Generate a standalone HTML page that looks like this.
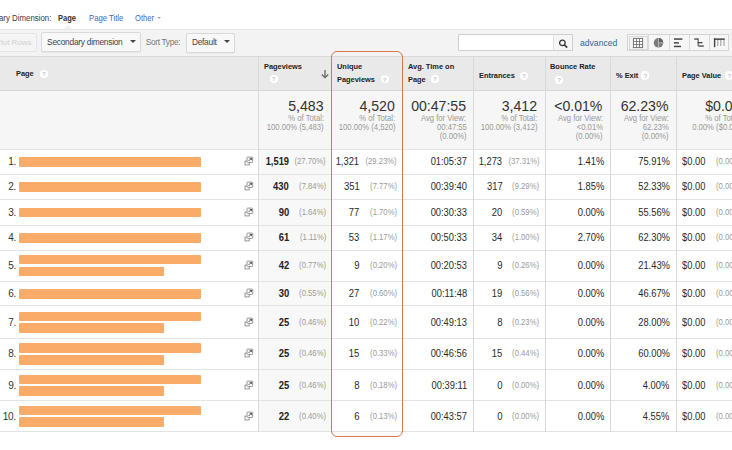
<!DOCTYPE html>
<html><head><meta charset="utf-8">
<style>
*{margin:0;padding:0;box-sizing:border-box}
html,body{width:732px;height:450px;overflow:hidden;background:#fff;font-family:"Liberation Sans", sans-serif;color:#333}
.a{position:absolute;white-space:nowrap}
#wrap{position:absolute;left:0;top:0;width:732px;height:450px;overflow:hidden;}
</style></head><body><div id="wrap">
<div class="a" style="left:-0.60px;top:13px;font-size:8.5px;line-height:10px;color:#3a3a3a;transform:scaleX(0.9242);transform-origin:left center;">ary Dimension:</div>
<div class="a" style="left:58.40px;top:13px;font-size:8.6px;line-height:10px;color:#333;font-weight:bold;transform:scaleX(0.8709);transform-origin:left center;">Page</div>
<div class="a" style="left:88.60px;top:13px;font-size:8.4px;line-height:10px;color:#3f68b8;transform:scaleX(0.9213);transform-origin:left center;">Page Title</div>
<div class="a" style="left:135.40px;top:13px;font-size:8.4px;line-height:10px;color:#3f68b8;transform:scaleX(0.9048);transform-origin:left center;">Other</div>
<div class="a" style="left:156.8px;top:17.2px;width:0;height:0;border-left:2.9px solid transparent;border-right:2.9px solid transparent;border-top:2.9px solid #aaa"></div>
<div class="a" style="left:0px;top:28.5px;width:732px;height:28.5px;background:#f3f3f3;border-top:1px solid #e6e6e6;border-bottom:1px solid #d9d9d9"></div>
<div class="a" style="left:63.5px;top:24.6px;width:0;height:0;border-left:4px solid transparent;border-right:4px solid transparent;border-bottom:4px solid #e8e8e8"></div>
<div class="a" style="left:64.5px;top:26.2px;width:0;height:0;border-left:3px solid transparent;border-right:3px solid transparent;border-bottom:3px solid #f3f3f3"></div>
<div class="a" style="left:-4px;top:32.5px;width:41px;height:19.5px;background:#f5f5f5;border:1px solid #e6e6e6;border-radius:2px"></div>
<div class="a" style="left:-4.40px;top:38px;font-size:8.0px;line-height:9px;color:#d0d0d0;">Plot Rows</div>
<div class="a" style="left:41px;top:32.3px;width:99.5px;height:20.2px;background:#f8f8f8;border:1px solid #d9d9d9;border-radius:2px;box-shadow:0 1px 1px rgba(0,0,0,0.05)"></div>
<div class="a" style="left:47.10px;top:37px;font-size:8.4px;line-height:10px;color:#444;letter-spacing:-0.270px;">Secondary dimension</div>
<div class="a" style="left:129.9px;top:39.8px;width:0;height:0;border-left:3.1px solid transparent;border-right:3.1px solid transparent;border-top:3.3px solid #444"></div>
<div class="a" style="left:145.70px;top:37px;font-size:8.3px;line-height:10px;color:#777;letter-spacing:-0.309px;">Sort Type:</div>
<div class="a" style="left:186px;top:32.5px;width:48.5px;height:20px;background:#f8f8f8;border:1px solid #d9d9d9;border-radius:2px;box-shadow:0 1px 1px rgba(0,0,0,0.05)"></div>
<div class="a" style="left:191.90px;top:37px;font-size:8.4px;line-height:10px;color:#444;letter-spacing:-0.271px;">Default</div>
<div class="a" style="left:223.7px;top:39.8px;width:0;height:0;border-left:3.1px solid transparent;border-right:3.1px solid transparent;border-top:3.3px solid #444"></div>
<div class="a" style="left:458px;top:34px;width:115px;height:16.5px;background:#fff;border:1px solid #cfcfcf;border-radius:1px"></div>
<div class="a" style="left:553px;top:34px;width:20px;height:16.5px;background:#f6f6f6;border:1px solid #cfcfcf;border-left:1px solid #e0e0e0"></div>
<svg class="a" style="left:558px;top:38.6px" width="12" height="10" viewBox="0 0 12 10"><circle cx="4.4" cy="3.9" r="2.8" fill="none" stroke="#333" stroke-width="1.3"/><line x1="6.4" y1="6" x2="9.2" y2="8.6" stroke="#333" stroke-width="1.7"/></svg>
<div class="a" style="left:579.60px;top:38px;font-size:8.9px;line-height:10px;color:#2c669c;transform:scaleX(0.9694);transform-origin:left center;">advanced</div>
<div class="a" style="left:627.3px;top:34px;width:102px;height:17.3px;background:#f7f7f7;border:1px solid #d4d4d4"></div>
<div class="a" style="left:628.6px;top:35.5px;width:19.2px;height:14.5px;background:#f3f3f3;border:1px solid #d9d9d9"></div>
<div class="a" style="left:648px;top:34.5px;width:1px;height:16.5px;background:#dadada"></div>
<div class="a" style="left:668.5px;top:34.5px;width:1px;height:16.5px;background:#dadada"></div>
<div class="a" style="left:688.6px;top:34.5px;width:1px;height:16.5px;background:#dadada"></div>
<div class="a" style="left:709.2px;top:34.5px;width:1px;height:16.5px;background:#dadada"></div>
<svg class="a" style="left:0;top:0" width="732" height="60" viewBox="0 0 732 60"><rect x="633.4" y="38.4" width="9.2" height="9.2" fill="#fafafa" stroke="#6a6a6a" stroke-width="0.9"/><line x1="636.5" y1="38.4" x2="636.5" y2="47.6" stroke="#6a6a6a" stroke-width="0.8"/><line x1="639.5" y1="38.4" x2="639.5" y2="47.6" stroke="#6a6a6a" stroke-width="0.8"/><line x1="633.4" y1="41.5" x2="642.6" y2="41.5" stroke="#6a6a6a" stroke-width="0.8"/><line x1="633.4" y1="44.5" x2="642.6" y2="44.5" stroke="#6a6a6a" stroke-width="0.8"/><circle cx="658.5" cy="42.8" r="4.8" fill="#7c7c7c"/><path d="M658.5 42.8 L658.5 38 A4.8 4.8 0 0 1 663.3 42.8 Z" fill="#5f5f5f"/><line x1="658.5" y1="38" x2="658.5" y2="47.6" stroke="#bdbdbd" stroke-width="0.9"/><line x1="658.5" y1="42.8" x2="663.3" y2="42.8" stroke="#bdbdbd" stroke-width="0.9"/><rect x="673.9" y="38.3" width="8.5" height="1.5" fill="#444"/><rect x="673.9" y="42.1" width="5" height="1.5" fill="#444"/><rect x="673.9" y="45.7" width="7.1" height="1.5" fill="#444"/><rect x="694.2" y="38.4" width="4" height="1.3" fill="#444"/><rect x="697.6" y="38.4" width="1.1" height="7.6" fill="#555"/><rect x="697.6" y="42" width="4.9" height="1.3" fill="#444"/><rect x="698.4" y="45.4" width="5.4" height="1.3" fill="#444"/><rect x="713.9" y="38.4" width="10.9" height="1.5" fill="#444"/><rect x="713.9" y="38.4" width="1.4" height="8.8" fill="#444"/><rect x="717.3" y="40" width="1" height="6" fill="#999"/><rect x="720.3" y="40" width="1" height="6" fill="#999"/><rect x="723.5" y="40" width="1" height="6" fill="#999"/></svg>
<div class="a" style="left:0px;top:57px;width:732px;height:33px;background:#e9e9e9"></div>
<div class="a" style="left:0px;top:90px;width:258px;height:59px;background:#f6f6f6"></div>
<div class="a" style="left:259px;top:90px;width:473px;height:59px;background:#f6f6f6"></div>
<div class="a" style="left:259px;top:149px;width:72px;height:283px;background:#f8f8f8"></div>
<div class="a" style="left:0px;top:90px;width:732px;height:1px;background:#d6d6d6"></div>
<div class="a" style="left:0px;top:148.5px;width:732px;height:1px;background:#e3e3e3"></div>
<div class="a" style="left:0px;top:173.8px;width:732px;height:1px;background:#e3e3e3"></div>
<div class="a" style="left:0px;top:199.0px;width:732px;height:1px;background:#e3e3e3"></div>
<div class="a" style="left:0px;top:224.5px;width:732px;height:1px;background:#e3e3e3"></div>
<div class="a" style="left:0px;top:249.5px;width:732px;height:1px;background:#e3e3e3"></div>
<div class="a" style="left:0px;top:280.5px;width:732px;height:1px;background:#e3e3e3"></div>
<div class="a" style="left:0px;top:305.4px;width:732px;height:1px;background:#e3e3e3"></div>
<div class="a" style="left:0px;top:337.8px;width:732px;height:1px;background:#e3e3e3"></div>
<div class="a" style="left:0px;top:369.0px;width:732px;height:1px;background:#e3e3e3"></div>
<div class="a" style="left:0px;top:400.2px;width:732px;height:1px;background:#e3e3e3"></div>
<div class="a" style="left:0px;top:431.3px;width:732px;height:1px;background:#e3e3e3"></div>
<div class="a" style="left:258.0px;top:57px;width:1px;height:374.8px;background:#d9d9d9"></div>
<div class="a" style="left:330.5px;top:57px;width:1px;height:374.8px;background:#d9d9d9"></div>
<div class="a" style="left:401.5px;top:57px;width:1px;height:374.8px;background:#d9d9d9"></div>
<div class="a" style="left:473.0px;top:57px;width:1px;height:374.8px;background:#d9d9d9"></div>
<div class="a" style="left:544.5px;top:57px;width:1px;height:374.8px;background:#d9d9d9"></div>
<div class="a" style="left:610.0px;top:57px;width:1px;height:374.8px;background:#d9d9d9"></div>
<div class="a" style="left:675.8px;top:57px;width:1px;height:374.8px;background:#d9d9d9"></div>
<div class="a" style="left:16.00px;top:69px;font-size:7.7px;line-height:9px;color:#222;font-weight:bold;transform:scaleX(0.9650);transform-origin:left center;">Page</div>
<div class="a" style="left:39.80px;top:69.60px;width:8.2px;height:8.2px;border-radius:50%;background:#fff"></div>
<div class="a" style="left:40.90px;top:70.00px;width:6px;text-align:center;font-size:6.2px;line-height:7px;font-weight:bold;color:#c2c2c2">?</div>
<div class="a" style="left:263.80px;top:62px;font-size:7.7px;line-height:9px;color:#222;font-weight:bold;transform:scaleX(0.9650);transform-origin:left center;">Pageviews</div>
<div class="a" style="left:269.50px;top:74.90px;width:8.2px;height:8.2px;border-radius:50%;background:#fff"></div>
<div class="a" style="left:270.60px;top:75.30px;width:6px;text-align:center;font-size:6.2px;line-height:7px;font-weight:bold;color:#c2c2c2">?</div>
<svg class="a" style="left:320px;top:69px" width="10" height="10" viewBox="0 0 10 10"><line x1="5" y1="1" x2="5" y2="8.5" stroke="#666" stroke-width="1.3"/><polyline points="1.8,5.5 5,8.7 8.2,5.5" fill="none" stroke="#666" stroke-width="1.3"/></svg>
<div class="a" style="left:336.50px;top:62px;font-size:7.7px;line-height:9px;color:#222;font-weight:bold;transform:scaleX(0.9650);transform-origin:left center;">Unique</div>
<div class="a" style="left:336.50px;top:75px;font-size:7.7px;line-height:9px;color:#222;font-weight:bold;transform:scaleX(0.9650);transform-origin:left center;">Pageviews</div>
<div class="a" style="left:380.60px;top:75.30px;width:8.2px;height:8.2px;border-radius:50%;background:#fff"></div>
<div class="a" style="left:381.70px;top:75.70px;width:6px;text-align:center;font-size:6.2px;line-height:7px;font-weight:bold;color:#c2c2c2">?</div>
<div class="a" style="left:407.70px;top:62px;font-size:7.7px;line-height:9px;color:#222;font-weight:bold;transform:scaleX(0.9650);transform-origin:left center;">Avg. Time on</div>
<div class="a" style="left:407.70px;top:75px;font-size:7.7px;line-height:9px;color:#222;font-weight:bold;transform:scaleX(0.9650);transform-origin:left center;">Page</div>
<div class="a" style="left:430.90px;top:75.00px;width:8.2px;height:8.2px;border-radius:50%;background:#fff"></div>
<div class="a" style="left:432.00px;top:75.40px;width:6px;text-align:center;font-size:6.2px;line-height:7px;font-weight:bold;color:#c2c2c2">?</div>
<div class="a" style="left:478.70px;top:71px;font-size:7.7px;line-height:9px;color:#222;font-weight:bold;transform:scaleX(0.9650);transform-origin:left center;">Entrances</div>
<div class="a" style="left:519.80px;top:71.70px;width:8.2px;height:8.2px;border-radius:50%;background:#fff"></div>
<div class="a" style="left:520.90px;top:72.10px;width:6px;text-align:center;font-size:6.2px;line-height:7px;font-weight:bold;color:#c2c2c2">?</div>
<div class="a" style="left:550.00px;top:62px;font-size:7.7px;line-height:9px;color:#222;font-weight:bold;transform:scaleX(0.9650);transform-origin:left center;">Bounce Rate</div>
<div class="a" style="left:555.00px;top:75.60px;width:8.2px;height:8.2px;border-radius:50%;background:#fff"></div>
<div class="a" style="left:556.10px;top:76.00px;width:6px;text-align:center;font-size:6.2px;line-height:7px;font-weight:bold;color:#c2c2c2">?</div>
<div class="a" style="left:615.50px;top:71px;font-size:7.7px;line-height:9px;color:#222;font-weight:bold;transform:scaleX(0.9650);transform-origin:left center;">% Exit</div>
<div class="a" style="left:641.30px;top:71.40px;width:8.2px;height:8.2px;border-radius:50%;background:#fff"></div>
<div class="a" style="left:642.40px;top:71.80px;width:6px;text-align:center;font-size:6.2px;line-height:7px;font-weight:bold;color:#c2c2c2">?</div>
<div class="a" style="left:681.60px;top:71px;font-size:7.7px;line-height:9px;color:#222;font-weight:bold;transform:scaleX(0.9650);transform-origin:left center;">Page Value</div>
<div class="a" style="left:725.30px;top:71.40px;width:8.2px;height:8.2px;border-radius:50%;background:#fff"></div>
<div class="a" style="left:726.40px;top:71.80px;width:6px;text-align:center;font-size:6.2px;line-height:7px;font-weight:bold;color:#c2c2c2">?</div>
<div class="a" style="right:408.50px;top:98px;font-size:14.1px;line-height:16px;color:#333;">5,483</div>
<div class="a" style="right:408.10px;top:114px;font-size:8.2px;line-height:9px;color:#999999;transform:scaleX(0.9390);transform-origin:right center;">% of Total:</div>
<div class="a" style="right:408.10px;top:123px;font-size:8.2px;line-height:9px;color:#999999;transform:scaleX(0.9390);transform-origin:right center;">100.00% (5,483)</div>
<div class="a" style="right:337.20px;top:98px;font-size:14.1px;line-height:16px;color:#333;">4,520</div>
<div class="a" style="right:336.80px;top:114px;font-size:8.2px;line-height:9px;color:#999999;transform:scaleX(0.9390);transform-origin:right center;">% of Total:</div>
<div class="a" style="right:336.80px;top:123px;font-size:8.2px;line-height:9px;color:#999999;transform:scaleX(0.9390);transform-origin:right center;">100.00% (4,520)</div>
<div class="a" style="right:266.00px;top:98px;font-size:14.1px;line-height:16px;color:#333;">00:47:55</div>
<div class="a" style="right:265.60px;top:114px;font-size:8.2px;line-height:9px;color:#999999;transform:scaleX(0.9390);transform-origin:right center;">Avg for View:</div>
<div class="a" style="right:265.60px;top:123px;font-size:8.2px;line-height:9px;color:#999999;transform:scaleX(0.9390);transform-origin:right center;">00:47:55</div>
<div class="a" style="right:265.60px;top:132px;font-size:8.2px;line-height:9px;color:#999999;transform:scaleX(0.9390);transform-origin:right center;">(0.00%)</div>
<div class="a" style="right:195.00px;top:98px;font-size:14.1px;line-height:16px;color:#333;">3,412</div>
<div class="a" style="right:194.60px;top:114px;font-size:8.2px;line-height:9px;color:#999999;transform:scaleX(0.9390);transform-origin:right center;">% of Total:</div>
<div class="a" style="right:194.60px;top:123px;font-size:8.2px;line-height:9px;color:#999999;transform:scaleX(0.9390);transform-origin:right center;">100.00% (3,412)</div>
<div class="a" style="right:129.60px;top:98px;font-size:14.1px;line-height:16px;color:#333;">&lt;0.01%</div>
<div class="a" style="right:129.20px;top:114px;font-size:8.2px;line-height:9px;color:#999999;transform:scaleX(0.9390);transform-origin:right center;">Avg for View:</div>
<div class="a" style="right:129.20px;top:123px;font-size:8.2px;line-height:9px;color:#999999;transform:scaleX(0.9390);transform-origin:right center;">&lt;0.01%</div>
<div class="a" style="right:129.20px;top:132px;font-size:8.2px;line-height:9px;color:#999999;transform:scaleX(0.9390);transform-origin:right center;">(0.00%)</div>
<div class="a" style="right:63.50px;top:98px;font-size:14.1px;line-height:16px;color:#333;">62.23%</div>
<div class="a" style="right:63.10px;top:114px;font-size:8.2px;line-height:9px;color:#999999;transform:scaleX(0.9390);transform-origin:right center;">Avg for View:</div>
<div class="a" style="right:63.10px;top:123px;font-size:8.2px;line-height:9px;color:#999999;transform:scaleX(0.9390);transform-origin:right center;">62.23%</div>
<div class="a" style="right:63.10px;top:132px;font-size:8.2px;line-height:9px;color:#999999;transform:scaleX(0.9390);transform-origin:right center;">(0.00%)</div>
<div class="a" style="right:-8.50px;top:98px;font-size:14.1px;line-height:16px;color:#333;">$0.00</div>
<div class="a" style="right:-8.90px;top:114px;font-size:8.2px;line-height:9px;color:#999999;transform:scaleX(0.9390);transform-origin:right center;">% of Total:</div>
<div class="a" style="right:-8.90px;top:123px;font-size:8.2px;line-height:9px;color:#999999;transform:scaleX(0.9390);transform-origin:right center;">0.00% ($0.00)</div>
<div class="a" style="right:716.07px;top:156px;font-size:10.0px;line-height:11px;color:#333;letter-spacing:-0.334px;">1.</div>
<div class="a" style="left:19.4px;top:156.95000000000002px;width:181.2px;height:9.8px;background:#fbab68;border-radius:1px"></div>
<svg class="a" style="left:243.6px;top:156.05px" width="10" height="10" viewBox="0 0 10 10"><rect x="1" y="5.1" width="4.2" height="3.8" fill="#fff" stroke="#8a8a8a" stroke-width="0.9"/><rect x="3" y="1.1" width="5.7" height="5.3" rx="0.6" fill="#fff" stroke="#8a8a8a" stroke-width="0.9"/><path d="M4.6 5 L7.6 2" stroke="#555" stroke-width="1"/><path d="M5.4 1.9 L8 1.9 L8 4.5 Z" fill="#555"/></svg>
<div class="a" style="right:443.00px;top:156px;font-size:10.0px;line-height:11px;color:#222;font-weight:bold;transform:scaleX(0.9340);transform-origin:right center;">1,519</div>
<div class="a" style="right:406.00px;top:156px;font-size:8.3px;line-height:10px;color:#9a9a9a;transform:scaleX(0.9277);transform-origin:right center;">(27.70%)</div>
<div class="a" style="right:372.50px;top:156px;font-size:10.0px;line-height:11px;color:#2a2a2a;transform:scaleX(0.9340);transform-origin:right center;">1,321</div>
<div class="a" style="right:335.30px;top:156px;font-size:8.3px;line-height:10px;color:#9a9a9a;transform:scaleX(0.9277);transform-origin:right center;">(29.23%)</div>
<div class="a" style="right:265.00px;top:156px;font-size:10.0px;line-height:11px;color:#2a2a2a;transform:scaleX(0.9320);transform-origin:right center;">01:05:37</div>
<div class="a" style="right:229.80px;top:156px;font-size:10.0px;line-height:11px;color:#2a2a2a;transform:scaleX(0.9340);transform-origin:right center;">1,273</div>
<div class="a" style="right:192.60px;top:156px;font-size:8.3px;line-height:10px;color:#9a9a9a;transform:scaleX(0.9277);transform-origin:right center;">(37.31%)</div>
<div class="a" style="right:127.80px;top:156px;font-size:10.0px;line-height:11px;color:#2a2a2a;transform:scaleX(0.9359);transform-origin:right center;">1.41%</div>
<div class="a" style="right:62.30px;top:156px;font-size:10.0px;line-height:11px;color:#2a2a2a;transform:scaleX(0.9353);transform-origin:right center;">75.91%</div>
<div class="a" style="left:681.90px;top:156px;font-size:10.0px;line-height:11px;color:#2a2a2a;transform:scaleX(0.9340);transform-origin:left center;">$0.00</div>
<div class="a" style="left:715.90px;top:156px;font-size:8.3px;line-height:10px;color:#9a9a9a;transform:scaleX(0.9277);transform-origin:left center;">(0.00%)</div>
<div class="a" style="right:716.07px;top:181px;font-size:10.0px;line-height:11px;color:#333;letter-spacing:-0.334px;">2.</div>
<div class="a" style="left:19.4px;top:182.20000000000002px;width:181.2px;height:9.8px;background:#fbab68;border-radius:1px"></div>
<svg class="a" style="left:243.6px;top:181.30px" width="10" height="10" viewBox="0 0 10 10"><rect x="1" y="5.1" width="4.2" height="3.8" fill="#fff" stroke="#8a8a8a" stroke-width="0.9"/><rect x="3" y="1.1" width="5.7" height="5.3" rx="0.6" fill="#fff" stroke="#8a8a8a" stroke-width="0.9"/><path d="M4.6 5 L7.6 2" stroke="#555" stroke-width="1"/><path d="M5.4 1.9 L8 1.9 L8 4.5 Z" fill="#555"/></svg>
<div class="a" style="right:443.00px;top:181px;font-size:10.0px;line-height:11px;color:#222;font-weight:bold;transform:scaleX(0.9380);transform-origin:right center;">430</div>
<div class="a" style="right:406.00px;top:181px;font-size:8.3px;line-height:10px;color:#9a9a9a;transform:scaleX(0.9277);transform-origin:right center;">(7.84%)</div>
<div class="a" style="right:372.50px;top:181px;font-size:10.0px;line-height:11px;color:#2a2a2a;transform:scaleX(0.9380);transform-origin:right center;">351</div>
<div class="a" style="right:335.30px;top:181px;font-size:8.3px;line-height:10px;color:#9a9a9a;transform:scaleX(0.9277);transform-origin:right center;">(7.77%)</div>
<div class="a" style="right:265.00px;top:181px;font-size:10.0px;line-height:11px;color:#2a2a2a;transform:scaleX(0.9320);transform-origin:right center;">00:39:40</div>
<div class="a" style="right:229.80px;top:181px;font-size:10.0px;line-height:11px;color:#2a2a2a;transform:scaleX(0.9380);transform-origin:right center;">317</div>
<div class="a" style="right:192.60px;top:181px;font-size:8.3px;line-height:10px;color:#9a9a9a;transform:scaleX(0.9277);transform-origin:right center;">(9.29%)</div>
<div class="a" style="right:127.80px;top:181px;font-size:10.0px;line-height:11px;color:#2a2a2a;transform:scaleX(0.9359);transform-origin:right center;">1.85%</div>
<div class="a" style="right:62.30px;top:181px;font-size:10.0px;line-height:11px;color:#2a2a2a;transform:scaleX(0.9353);transform-origin:right center;">52.33%</div>
<div class="a" style="left:681.90px;top:181px;font-size:10.0px;line-height:11px;color:#2a2a2a;transform:scaleX(0.9340);transform-origin:left center;">$0.00</div>
<div class="a" style="left:715.90px;top:181px;font-size:8.3px;line-height:10px;color:#9a9a9a;transform:scaleX(0.9277);transform-origin:left center;">(0.00%)</div>
<div class="a" style="right:716.07px;top:207px;font-size:10.0px;line-height:11px;color:#333;letter-spacing:-0.334px;">3.</div>
<div class="a" style="left:19.4px;top:207.55px;width:181.2px;height:9.8px;background:#fbab68;border-radius:1px"></div>
<svg class="a" style="left:243.6px;top:206.65px" width="10" height="10" viewBox="0 0 10 10"><rect x="1" y="5.1" width="4.2" height="3.8" fill="#fff" stroke="#8a8a8a" stroke-width="0.9"/><rect x="3" y="1.1" width="5.7" height="5.3" rx="0.6" fill="#fff" stroke="#8a8a8a" stroke-width="0.9"/><path d="M4.6 5 L7.6 2" stroke="#555" stroke-width="1"/><path d="M5.4 1.9 L8 1.9 L8 4.5 Z" fill="#555"/></svg>
<div class="a" style="right:443.00px;top:207px;font-size:10.0px;line-height:11px;color:#222;font-weight:bold;transform:scaleX(0.9410);transform-origin:right center;">90</div>
<div class="a" style="right:406.00px;top:207px;font-size:8.3px;line-height:10px;color:#9a9a9a;transform:scaleX(0.9277);transform-origin:right center;">(1.64%)</div>
<div class="a" style="right:372.50px;top:207px;font-size:10.0px;line-height:11px;color:#2a2a2a;transform:scaleX(0.9410);transform-origin:right center;">77</div>
<div class="a" style="right:335.30px;top:207px;font-size:8.3px;line-height:10px;color:#9a9a9a;transform:scaleX(0.9277);transform-origin:right center;">(1.70%)</div>
<div class="a" style="right:265.00px;top:207px;font-size:10.0px;line-height:11px;color:#2a2a2a;transform:scaleX(0.9320);transform-origin:right center;">00:30:33</div>
<div class="a" style="right:229.80px;top:207px;font-size:10.0px;line-height:11px;color:#2a2a2a;transform:scaleX(0.9410);transform-origin:right center;">20</div>
<div class="a" style="right:192.60px;top:207px;font-size:8.3px;line-height:10px;color:#9a9a9a;transform:scaleX(0.9277);transform-origin:right center;">(0.59%)</div>
<div class="a" style="right:127.80px;top:207px;font-size:10.0px;line-height:11px;color:#2a2a2a;transform:scaleX(0.9359);transform-origin:right center;">0.00%</div>
<div class="a" style="right:62.30px;top:207px;font-size:10.0px;line-height:11px;color:#2a2a2a;transform:scaleX(0.9353);transform-origin:right center;">55.56%</div>
<div class="a" style="left:681.90px;top:207px;font-size:10.0px;line-height:11px;color:#2a2a2a;transform:scaleX(0.9340);transform-origin:left center;">$0.00</div>
<div class="a" style="left:715.90px;top:207px;font-size:8.3px;line-height:10px;color:#9a9a9a;transform:scaleX(0.9277);transform-origin:left center;">(0.00%)</div>
<div class="a" style="right:716.07px;top:232px;font-size:10.0px;line-height:11px;color:#333;letter-spacing:-0.334px;">4.</div>
<div class="a" style="left:19.4px;top:232.8px;width:181.2px;height:9.8px;background:#fbab68;border-radius:1px"></div>
<svg class="a" style="left:243.6px;top:231.90px" width="10" height="10" viewBox="0 0 10 10"><rect x="1" y="5.1" width="4.2" height="3.8" fill="#fff" stroke="#8a8a8a" stroke-width="0.9"/><rect x="3" y="1.1" width="5.7" height="5.3" rx="0.6" fill="#fff" stroke="#8a8a8a" stroke-width="0.9"/><path d="M4.6 5 L7.6 2" stroke="#555" stroke-width="1"/><path d="M5.4 1.9 L8 1.9 L8 4.5 Z" fill="#555"/></svg>
<div class="a" style="right:443.00px;top:232px;font-size:10.0px;line-height:11px;color:#222;font-weight:bold;transform:scaleX(0.9410);transform-origin:right center;">61</div>
<div class="a" style="right:406.00px;top:232px;font-size:8.3px;line-height:10px;color:#9a9a9a;transform:scaleX(0.9277);transform-origin:right center;">(1.11%)</div>
<div class="a" style="right:372.50px;top:232px;font-size:10.0px;line-height:11px;color:#2a2a2a;transform:scaleX(0.9410);transform-origin:right center;">53</div>
<div class="a" style="right:335.30px;top:232px;font-size:8.3px;line-height:10px;color:#9a9a9a;transform:scaleX(0.9277);transform-origin:right center;">(1.17%)</div>
<div class="a" style="right:265.00px;top:232px;font-size:10.0px;line-height:11px;color:#2a2a2a;transform:scaleX(0.9320);transform-origin:right center;">00:50:33</div>
<div class="a" style="right:229.80px;top:232px;font-size:10.0px;line-height:11px;color:#2a2a2a;transform:scaleX(0.9410);transform-origin:right center;">34</div>
<div class="a" style="right:192.60px;top:232px;font-size:8.3px;line-height:10px;color:#9a9a9a;transform:scaleX(0.9277);transform-origin:right center;">(1.00%)</div>
<div class="a" style="right:127.80px;top:232px;font-size:10.0px;line-height:11px;color:#2a2a2a;transform:scaleX(0.9359);transform-origin:right center;">2.70%</div>
<div class="a" style="right:62.30px;top:232px;font-size:10.0px;line-height:11px;color:#2a2a2a;transform:scaleX(0.9353);transform-origin:right center;">62.30%</div>
<div class="a" style="left:681.90px;top:232px;font-size:10.0px;line-height:11px;color:#2a2a2a;transform:scaleX(0.9340);transform-origin:left center;">$0.00</div>
<div class="a" style="left:715.90px;top:232px;font-size:8.3px;line-height:10px;color:#9a9a9a;transform:scaleX(0.9277);transform-origin:left center;">(0.00%)</div>
<div class="a" style="right:716.07px;top:260px;font-size:10.0px;line-height:11px;color:#333;letter-spacing:-0.334px;">5.</div>
<div class="a" style="left:19.4px;top:254.9px;width:181.2px;height:9.5px;background:#fbab68;border-radius:1px"></div>
<div class="a" style="left:19.4px;top:266.6px;width:144.5px;height:9.5px;background:#fbab68;border-radius:1px"></div>
<svg class="a" style="left:243.6px;top:259.90px" width="10" height="10" viewBox="0 0 10 10"><rect x="1" y="5.1" width="4.2" height="3.8" fill="#fff" stroke="#8a8a8a" stroke-width="0.9"/><rect x="3" y="1.1" width="5.7" height="5.3" rx="0.6" fill="#fff" stroke="#8a8a8a" stroke-width="0.9"/><path d="M4.6 5 L7.6 2" stroke="#555" stroke-width="1"/><path d="M5.4 1.9 L8 1.9 L8 4.5 Z" fill="#555"/></svg>
<div class="a" style="right:443.00px;top:260px;font-size:10.0px;line-height:11px;color:#222;font-weight:bold;transform:scaleX(0.9410);transform-origin:right center;">42</div>
<div class="a" style="right:406.00px;top:260px;font-size:8.3px;line-height:10px;color:#9a9a9a;transform:scaleX(0.9277);transform-origin:right center;">(0.77%)</div>
<div class="a" style="right:372.50px;top:260px;font-size:10.0px;line-height:11px;color:#2a2a2a;transform:scaleX(0.9500);transform-origin:right center;">9</div>
<div class="a" style="right:335.30px;top:260px;font-size:8.3px;line-height:10px;color:#9a9a9a;transform:scaleX(0.9277);transform-origin:right center;">(0.20%)</div>
<div class="a" style="right:265.00px;top:260px;font-size:10.0px;line-height:11px;color:#2a2a2a;transform:scaleX(0.9320);transform-origin:right center;">00:20:53</div>
<div class="a" style="right:229.80px;top:260px;font-size:10.0px;line-height:11px;color:#2a2a2a;transform:scaleX(0.9500);transform-origin:right center;">9</div>
<div class="a" style="right:192.60px;top:260px;font-size:8.3px;line-height:10px;color:#9a9a9a;transform:scaleX(0.9277);transform-origin:right center;">(0.26%)</div>
<div class="a" style="right:127.80px;top:260px;font-size:10.0px;line-height:11px;color:#2a2a2a;transform:scaleX(0.9359);transform-origin:right center;">0.00%</div>
<div class="a" style="right:62.30px;top:260px;font-size:10.0px;line-height:11px;color:#2a2a2a;transform:scaleX(0.9353);transform-origin:right center;">21.43%</div>
<div class="a" style="left:681.90px;top:260px;font-size:10.0px;line-height:11px;color:#2a2a2a;transform:scaleX(0.9340);transform-origin:left center;">$0.00</div>
<div class="a" style="left:715.90px;top:260px;font-size:8.3px;line-height:10px;color:#9a9a9a;transform:scaleX(0.9277);transform-origin:left center;">(0.00%)</div>
<div class="a" style="right:716.07px;top:288px;font-size:10.0px;line-height:11px;color:#333;letter-spacing:-0.334px;">6.</div>
<div class="a" style="left:19.4px;top:288.75px;width:181.2px;height:9.8px;background:#fbab68;border-radius:1px"></div>
<svg class="a" style="left:243.6px;top:287.85px" width="10" height="10" viewBox="0 0 10 10"><rect x="1" y="5.1" width="4.2" height="3.8" fill="#fff" stroke="#8a8a8a" stroke-width="0.9"/><rect x="3" y="1.1" width="5.7" height="5.3" rx="0.6" fill="#fff" stroke="#8a8a8a" stroke-width="0.9"/><path d="M4.6 5 L7.6 2" stroke="#555" stroke-width="1"/><path d="M5.4 1.9 L8 1.9 L8 4.5 Z" fill="#555"/></svg>
<div class="a" style="right:443.00px;top:288px;font-size:10.0px;line-height:11px;color:#222;font-weight:bold;transform:scaleX(0.9410);transform-origin:right center;">30</div>
<div class="a" style="right:406.00px;top:288px;font-size:8.3px;line-height:10px;color:#9a9a9a;transform:scaleX(0.9277);transform-origin:right center;">(0.55%)</div>
<div class="a" style="right:372.50px;top:288px;font-size:10.0px;line-height:11px;color:#2a2a2a;transform:scaleX(0.9410);transform-origin:right center;">27</div>
<div class="a" style="right:335.30px;top:288px;font-size:8.3px;line-height:10px;color:#9a9a9a;transform:scaleX(0.9277);transform-origin:right center;">(0.60%)</div>
<div class="a" style="right:265.00px;top:288px;font-size:10.0px;line-height:11px;color:#2a2a2a;transform:scaleX(0.9317);transform-origin:right center;">00:11:48</div>
<div class="a" style="right:229.80px;top:288px;font-size:10.0px;line-height:11px;color:#2a2a2a;transform:scaleX(0.9410);transform-origin:right center;">19</div>
<div class="a" style="right:192.60px;top:288px;font-size:8.3px;line-height:10px;color:#9a9a9a;transform:scaleX(0.9277);transform-origin:right center;">(0.56%)</div>
<div class="a" style="right:127.80px;top:288px;font-size:10.0px;line-height:11px;color:#2a2a2a;transform:scaleX(0.9359);transform-origin:right center;">0.00%</div>
<div class="a" style="right:62.30px;top:288px;font-size:10.0px;line-height:11px;color:#2a2a2a;transform:scaleX(0.9353);transform-origin:right center;">46.67%</div>
<div class="a" style="left:681.90px;top:288px;font-size:10.0px;line-height:11px;color:#2a2a2a;transform:scaleX(0.9340);transform-origin:left center;">$0.00</div>
<div class="a" style="left:715.90px;top:288px;font-size:8.3px;line-height:10px;color:#9a9a9a;transform:scaleX(0.9277);transform-origin:left center;">(0.00%)</div>
<div class="a" style="right:716.07px;top:317px;font-size:10.0px;line-height:11px;color:#333;letter-spacing:-0.334px;">7.</div>
<div class="a" style="left:19.4px;top:311.5px;width:181.2px;height:9.5px;background:#fbab68;border-radius:1px"></div>
<div class="a" style="left:19.4px;top:323.20000000000005px;width:144.5px;height:9.5px;background:#fbab68;border-radius:1px"></div>
<svg class="a" style="left:243.6px;top:316.50px" width="10" height="10" viewBox="0 0 10 10"><rect x="1" y="5.1" width="4.2" height="3.8" fill="#fff" stroke="#8a8a8a" stroke-width="0.9"/><rect x="3" y="1.1" width="5.7" height="5.3" rx="0.6" fill="#fff" stroke="#8a8a8a" stroke-width="0.9"/><path d="M4.6 5 L7.6 2" stroke="#555" stroke-width="1"/><path d="M5.4 1.9 L8 1.9 L8 4.5 Z" fill="#555"/></svg>
<div class="a" style="right:443.00px;top:317px;font-size:10.0px;line-height:11px;color:#222;font-weight:bold;transform:scaleX(0.9410);transform-origin:right center;">25</div>
<div class="a" style="right:406.00px;top:317px;font-size:8.3px;line-height:10px;color:#9a9a9a;transform:scaleX(0.9277);transform-origin:right center;">(0.46%)</div>
<div class="a" style="right:372.50px;top:317px;font-size:10.0px;line-height:11px;color:#2a2a2a;transform:scaleX(0.9410);transform-origin:right center;">10</div>
<div class="a" style="right:335.30px;top:317px;font-size:8.3px;line-height:10px;color:#9a9a9a;transform:scaleX(0.9277);transform-origin:right center;">(0.22%)</div>
<div class="a" style="right:265.00px;top:317px;font-size:10.0px;line-height:11px;color:#2a2a2a;transform:scaleX(0.9320);transform-origin:right center;">00:49:13</div>
<div class="a" style="right:229.80px;top:317px;font-size:10.0px;line-height:11px;color:#2a2a2a;transform:scaleX(0.9500);transform-origin:right center;">8</div>
<div class="a" style="right:192.60px;top:317px;font-size:8.3px;line-height:10px;color:#9a9a9a;transform:scaleX(0.9277);transform-origin:right center;">(0.23%)</div>
<div class="a" style="right:127.80px;top:317px;font-size:10.0px;line-height:11px;color:#2a2a2a;transform:scaleX(0.9359);transform-origin:right center;">0.00%</div>
<div class="a" style="right:62.30px;top:317px;font-size:10.0px;line-height:11px;color:#2a2a2a;transform:scaleX(0.9353);transform-origin:right center;">28.00%</div>
<div class="a" style="left:681.90px;top:317px;font-size:10.0px;line-height:11px;color:#2a2a2a;transform:scaleX(0.9340);transform-origin:left center;">$0.00</div>
<div class="a" style="left:715.90px;top:317px;font-size:8.3px;line-height:10px;color:#9a9a9a;transform:scaleX(0.9277);transform-origin:left center;">(0.00%)</div>
<div class="a" style="right:716.07px;top:348px;font-size:10.0px;line-height:11px;color:#333;letter-spacing:-0.334px;">8.</div>
<div class="a" style="left:19.4px;top:343.29999999999995px;width:181.2px;height:9.5px;background:#fbab68;border-radius:1px"></div>
<div class="a" style="left:19.4px;top:355.0px;width:144.5px;height:9.5px;background:#fbab68;border-radius:1px"></div>
<svg class="a" style="left:243.6px;top:348.30px" width="10" height="10" viewBox="0 0 10 10"><rect x="1" y="5.1" width="4.2" height="3.8" fill="#fff" stroke="#8a8a8a" stroke-width="0.9"/><rect x="3" y="1.1" width="5.7" height="5.3" rx="0.6" fill="#fff" stroke="#8a8a8a" stroke-width="0.9"/><path d="M4.6 5 L7.6 2" stroke="#555" stroke-width="1"/><path d="M5.4 1.9 L8 1.9 L8 4.5 Z" fill="#555"/></svg>
<div class="a" style="right:443.00px;top:348px;font-size:10.0px;line-height:11px;color:#222;font-weight:bold;transform:scaleX(0.9410);transform-origin:right center;">25</div>
<div class="a" style="right:406.00px;top:348px;font-size:8.3px;line-height:10px;color:#9a9a9a;transform:scaleX(0.9277);transform-origin:right center;">(0.46%)</div>
<div class="a" style="right:372.50px;top:348px;font-size:10.0px;line-height:11px;color:#2a2a2a;transform:scaleX(0.9410);transform-origin:right center;">15</div>
<div class="a" style="right:335.30px;top:348px;font-size:8.3px;line-height:10px;color:#9a9a9a;transform:scaleX(0.9277);transform-origin:right center;">(0.33%)</div>
<div class="a" style="right:265.00px;top:348px;font-size:10.0px;line-height:11px;color:#2a2a2a;transform:scaleX(0.9320);transform-origin:right center;">00:46:56</div>
<div class="a" style="right:229.80px;top:348px;font-size:10.0px;line-height:11px;color:#2a2a2a;transform:scaleX(0.9410);transform-origin:right center;">15</div>
<div class="a" style="right:192.60px;top:348px;font-size:8.3px;line-height:10px;color:#9a9a9a;transform:scaleX(0.9277);transform-origin:right center;">(0.44%)</div>
<div class="a" style="right:127.80px;top:348px;font-size:10.0px;line-height:11px;color:#2a2a2a;transform:scaleX(0.9359);transform-origin:right center;">0.00%</div>
<div class="a" style="right:62.30px;top:348px;font-size:10.0px;line-height:11px;color:#2a2a2a;transform:scaleX(0.9353);transform-origin:right center;">60.00%</div>
<div class="a" style="left:681.90px;top:348px;font-size:10.0px;line-height:11px;color:#2a2a2a;transform:scaleX(0.9340);transform-origin:left center;">$0.00</div>
<div class="a" style="left:715.90px;top:348px;font-size:8.3px;line-height:10px;color:#9a9a9a;transform:scaleX(0.9277);transform-origin:left center;">(0.00%)</div>
<div class="a" style="right:716.07px;top:380px;font-size:10.0px;line-height:11px;color:#333;letter-spacing:-0.334px;">9.</div>
<div class="a" style="left:19.4px;top:374.5px;width:181.2px;height:9.5px;background:#fbab68;border-radius:1px"></div>
<div class="a" style="left:19.4px;top:386.20000000000005px;width:144.5px;height:9.5px;background:#fbab68;border-radius:1px"></div>
<svg class="a" style="left:243.6px;top:379.50px" width="10" height="10" viewBox="0 0 10 10"><rect x="1" y="5.1" width="4.2" height="3.8" fill="#fff" stroke="#8a8a8a" stroke-width="0.9"/><rect x="3" y="1.1" width="5.7" height="5.3" rx="0.6" fill="#fff" stroke="#8a8a8a" stroke-width="0.9"/><path d="M4.6 5 L7.6 2" stroke="#555" stroke-width="1"/><path d="M5.4 1.9 L8 1.9 L8 4.5 Z" fill="#555"/></svg>
<div class="a" style="right:443.00px;top:380px;font-size:10.0px;line-height:11px;color:#222;font-weight:bold;transform:scaleX(0.9410);transform-origin:right center;">25</div>
<div class="a" style="right:406.00px;top:380px;font-size:8.3px;line-height:10px;color:#9a9a9a;transform:scaleX(0.9277);transform-origin:right center;">(0.46%)</div>
<div class="a" style="right:372.50px;top:380px;font-size:10.0px;line-height:11px;color:#2a2a2a;transform:scaleX(0.9500);transform-origin:right center;">8</div>
<div class="a" style="right:335.30px;top:380px;font-size:8.3px;line-height:10px;color:#9a9a9a;transform:scaleX(0.9277);transform-origin:right center;">(0.18%)</div>
<div class="a" style="right:265.00px;top:380px;font-size:10.0px;line-height:11px;color:#2a2a2a;transform:scaleX(0.9317);transform-origin:right center;">00:39:11</div>
<div class="a" style="right:229.80px;top:380px;font-size:10.0px;line-height:11px;color:#2a2a2a;transform:scaleX(0.9500);transform-origin:right center;">0</div>
<div class="a" style="right:192.60px;top:380px;font-size:8.3px;line-height:10px;color:#9a9a9a;transform:scaleX(0.9277);transform-origin:right center;">(0.00%)</div>
<div class="a" style="right:127.80px;top:380px;font-size:10.0px;line-height:11px;color:#2a2a2a;transform:scaleX(0.9359);transform-origin:right center;">0.00%</div>
<div class="a" style="right:62.30px;top:380px;font-size:10.0px;line-height:11px;color:#2a2a2a;transform:scaleX(0.9359);transform-origin:right center;">4.00%</div>
<div class="a" style="left:681.90px;top:380px;font-size:10.0px;line-height:11px;color:#2a2a2a;transform:scaleX(0.9340);transform-origin:left center;">$0.00</div>
<div class="a" style="left:715.90px;top:380px;font-size:8.3px;line-height:10px;color:#9a9a9a;transform:scaleX(0.9277);transform-origin:left center;">(0.00%)</div>
<div class="a" style="right:716.12px;top:411px;font-size:10.0px;line-height:11px;color:#333;letter-spacing:-0.278px;">10.</div>
<div class="a" style="left:19.4px;top:405.65px;width:181.2px;height:9.5px;background:#fbab68;border-radius:1px"></div>
<div class="a" style="left:19.4px;top:417.35px;width:144.5px;height:9.5px;background:#fbab68;border-radius:1px"></div>
<svg class="a" style="left:243.6px;top:410.65px" width="10" height="10" viewBox="0 0 10 10"><rect x="1" y="5.1" width="4.2" height="3.8" fill="#fff" stroke="#8a8a8a" stroke-width="0.9"/><rect x="3" y="1.1" width="5.7" height="5.3" rx="0.6" fill="#fff" stroke="#8a8a8a" stroke-width="0.9"/><path d="M4.6 5 L7.6 2" stroke="#555" stroke-width="1"/><path d="M5.4 1.9 L8 1.9 L8 4.5 Z" fill="#555"/></svg>
<div class="a" style="right:443.00px;top:411px;font-size:10.0px;line-height:11px;color:#222;font-weight:bold;transform:scaleX(0.9410);transform-origin:right center;">22</div>
<div class="a" style="right:406.00px;top:411px;font-size:8.3px;line-height:10px;color:#9a9a9a;transform:scaleX(0.9277);transform-origin:right center;">(0.40%)</div>
<div class="a" style="right:372.50px;top:411px;font-size:10.0px;line-height:11px;color:#2a2a2a;transform:scaleX(0.9500);transform-origin:right center;">6</div>
<div class="a" style="right:335.30px;top:411px;font-size:8.3px;line-height:10px;color:#9a9a9a;transform:scaleX(0.9277);transform-origin:right center;">(0.13%)</div>
<div class="a" style="right:265.00px;top:411px;font-size:10.0px;line-height:11px;color:#2a2a2a;transform:scaleX(0.9320);transform-origin:right center;">00:43:57</div>
<div class="a" style="right:229.80px;top:411px;font-size:10.0px;line-height:11px;color:#2a2a2a;transform:scaleX(0.9500);transform-origin:right center;">0</div>
<div class="a" style="right:192.60px;top:411px;font-size:8.3px;line-height:10px;color:#9a9a9a;transform:scaleX(0.9277);transform-origin:right center;">(0.00%)</div>
<div class="a" style="right:127.80px;top:411px;font-size:10.0px;line-height:11px;color:#2a2a2a;transform:scaleX(0.9359);transform-origin:right center;">0.00%</div>
<div class="a" style="right:62.30px;top:411px;font-size:10.0px;line-height:11px;color:#2a2a2a;transform:scaleX(0.9359);transform-origin:right center;">4.55%</div>
<div class="a" style="left:681.90px;top:411px;font-size:10.0px;line-height:11px;color:#2a2a2a;transform:scaleX(0.9340);transform-origin:left center;">$0.00</div>
<div class="a" style="left:715.90px;top:411px;font-size:8.3px;line-height:10px;color:#9a9a9a;transform:scaleX(0.9277);transform-origin:left center;">(0.00%)</div>
<div class="a" style="left:330.55px;top:50.85px;width:72.3px;height:386px;border:1.7px solid #d8764f;border-radius:6px"></div>
</div></body></html>
